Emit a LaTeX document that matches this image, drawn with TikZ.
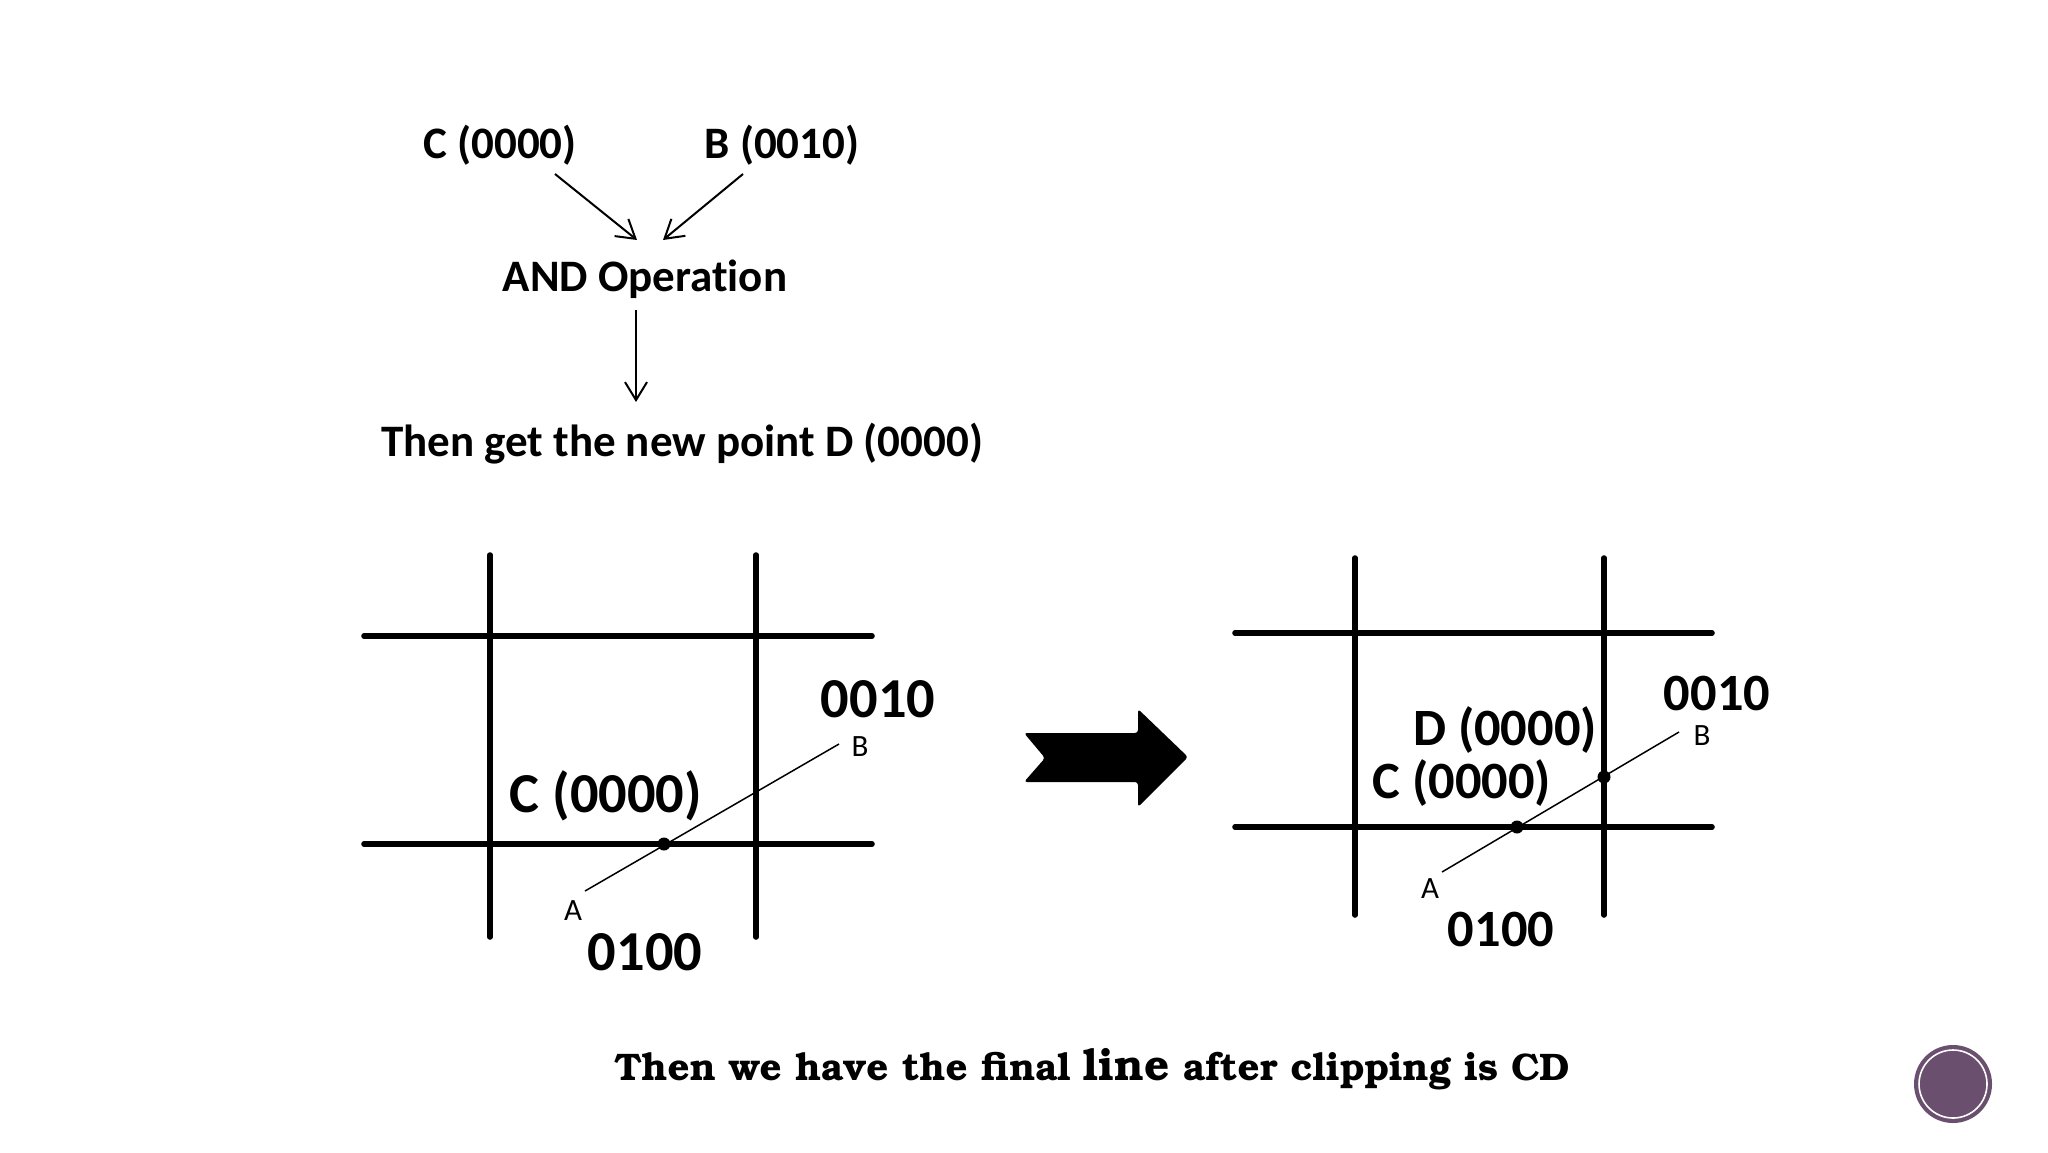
\documentclass[tikz,border=0pt]{standalone}
\usepackage[T1,TU]{fontenc}
\usepackage{fontspec}
\setmainfont[Ligatures=NoCommon]{Carlito}
\usetikzlibrary{arrows.meta,calc}
\definecolor{circ}{HTML}{6A4F6F}
\newcommand\bkfont{\fontencoding{T1}\fontfamily{pbk}\fontseries{b}\fontshape{n}\fontsize{19.2}{23}\selectfont}
\begin{document}
\begin{tikzpicture}[x=0.5pt,y=-0.5pt,
  lab/.style={font=\bfseries\fontsize{22.5}{26}\selectfont, inner sep=0, anchor=base},
  glabL/.style={font=\bfseries\fontsize{28.2}{32}\selectfont, inner sep=0, anchor=base},
  glabR/.style={font=\bfseries\fontsize{26.2}{30}\selectfont, inner sep=0, anchor=base},
  ptlab/.style={font=\fontsize{15.5}{18}\selectfont, inner sep=0, anchor=base},
  flow/.style={line width=1pt, -{Straight Barb[length=9pt,width=11pt,line width=1pt]}},
  gridline/.style={line width=2.8pt, line cap=round},
  seg/.style={line width=0.75pt},
  dot/.style={circle, fill=black, inner sep=0, minimum size=6.5pt}
]
\useasboundingbox[fill=white] (0,0) rectangle (2048,1152);

% top flow
\node[lab] (c0) at (500,158) {C (0000)};
\node[lab] (b0) at (782,158) {B (0010)};
\node[lab] (and) at (645,291) {AND Operation};
\node[lab] (res) at (682,456) {Then get the new point D (0000)};
\draw[flow] ($(c0.base)+(55,16)$) -- ($(and.base)+(-8,-51)$);
\draw[flow] ($(b0.base)+(-39,16)$) -- ($(and.base)+(18,-51)$);
\draw[flow] ($(and.base)+(-9,19)$) -- ($(res.base)+(-46,-54)$);

% left grid
\draw[gridline] (364,636) -- (872,636);
\draw[gridline] (364,844) -- (872,844);
\draw[gridline] (490,555) -- (490,937);
\draw[gridline] (756,555) -- (756,937);
\coordinate (LA) at (585,891);
\coordinate (LB) at (839,744);
\draw[seg] (LA) -- (LB);
\node[dot] (LC) at (664,844) {};
\node[glabL] (L0010) at (878,717) {0010};
\node[ptlab] (LBl) at (860,756) {B};
\node[glabL] (LCl) at (606,812) {C (0000)};
\node[ptlab] (LAl) at (573,920) {A};
\node[glabL] (L0100) at (645,970) {0100};

% big arrow
\fill[rounded corners=1.5pt] (1024,733) -- (1045,758) -- (1024,782) -- (1138,782) -- (1138,807) -- (1188,757) -- (1138,709) -- (1138,733) -- cycle;

% right grid
\draw[gridline] (1235,633) -- (1712,633);
\draw[gridline] (1235,827) -- (1712,827);
\draw[gridline] (1355,558) -- (1355,915);
\draw[gridline] (1604,558) -- (1604,915);
\coordinate (RA) at (1442,872);
\coordinate (RB) at (1679,732);
\draw[seg] (RA) -- (RB);
\node[dot] (RC) at (1517,827) {};
\node[dot] (RD) at (1604,777) {};
\node[glabR] (R0010) at (1717,710) {0010};
\node[ptlab] (RBl) at (1702,745) {B};
\node[glabR] (RDl) at (1505,745) {D (0000)};
\node[glabR] (RCl) at (1462,798) {C (0000)};
\node[ptlab] (RAl) at (1430,898) {A};
\node[glabR] (R0100) at (1501,946) {0100};

% bottom caption
\node[anchor=base, inner sep=0, font=\bkfont] (final) at (1092,1080) {Then we have the final {\fontsize{22}{26}\selectfont line} after clipping is CD};

% corner badge
\fill[circ] (1953,1084) circle (39);
\draw[white, line width=0.8pt] (1953,1084) circle (34);
\end{tikzpicture}
\end{document}
